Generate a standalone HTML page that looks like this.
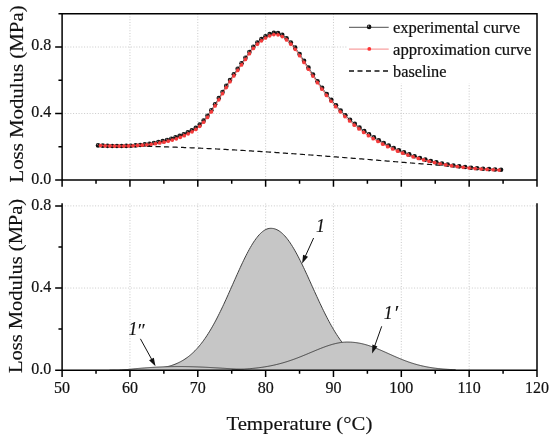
<!DOCTYPE html><html><head><meta charset="utf-8"><style>html,body{margin:0;padding:0;background:#fff;}svg{display:block;}</style></head><body><svg width="550" height="437" viewBox="0 0 550 437">
<rect width="550" height="437" fill="#fff"/>
<path d="M129.94,13.75 V180 M129.94,203.5 V370.2 M197.79,13.75 V180 M197.79,203.5 V370.2 M265.63,13.75 V180 M265.63,203.5 V370.2 M333.47,13.75 V180 M333.47,203.5 V370.2 M401.31,13.75 V180 M401.31,203.5 V370.2 M469.16,13.75 V180 M469.16,203.5 V370.2 M62.1,113.5 H537 M62.1,288.04 H537 M62.1,47 H537 M62.1,205.88 H537" fill="none" stroke="#c4c4c4" stroke-width="0.9" stroke-dasharray="1 1.75"/>
<rect x="347" y="14" width="190" height="69.5" fill="#fff"/>
<path d="M109.59,370.18 L110.7,370.18 L111.81,370.18 L112.91,370.17 L114.02,370.17 L115.13,370.17 L116.24,370.16 L117.35,370.16 L118.45,370.15 L119.56,370.15 L120.67,370.14 L121.78,370.13 L122.89,370.12 L124,370.12 L125.1,370.11 L126.21,370.09 L127.32,370.08 L128.43,370.07 L129.54,370.05 L130.64,370.04 L131.75,370.02 L132.86,370 L133.97,369.98 L135.08,369.95 L136.18,369.92 L137.29,369.89 L138.4,369.86 L139.51,369.83 L140.62,369.79 L141.72,369.74 L142.83,369.7 L143.94,369.65 L145.05,369.59 L146.16,369.53 L147.27,369.46 L148.37,369.39 L149.48,369.31 L150.59,369.23 L151.7,369.13 L152.81,369.03 L153.91,368.92 L155.02,368.81 L156.13,368.68 L157.24,368.54 L158.35,368.39 L159.45,368.23 L160.56,368.06 L161.67,367.87 L162.78,367.67 L163.89,367.45 L165,367.22 L166.1,366.97 L167.21,366.7 L168.32,366.42 L169.43,366.11 L170.54,365.78 L171.64,365.44 L172.75,365.06 L173.86,364.67 L174.97,364.24 L176.08,363.8 L177.18,363.32 L178.29,362.81 L179.4,362.27 L180.51,361.71 L181.62,361.1 L182.72,360.47 L183.83,359.79 L184.94,359.08 L186.05,358.34 L187.16,357.55 L188.27,356.72 L189.37,355.85 L190.48,354.93 L191.59,353.97 L192.7,352.97 L193.81,351.92 L194.91,350.82 L196.02,349.67 L197.13,348.47 L198.24,347.22 L199.35,345.92 L200.45,344.57 L201.56,343.17 L202.67,341.71 L203.78,340.2 L204.89,338.63 L205.99,337.02 L207.1,335.34 L208.21,333.62 L209.32,331.84 L210.43,330.01 L211.54,328.13 L212.64,326.19 L213.75,324.21 L214.86,322.18 L215.97,320.1 L217.08,317.97 L218.18,315.8 L219.29,313.59 L220.4,311.34 L221.51,309.05 L222.62,306.72 L223.72,304.36 L224.83,301.97 L225.94,299.55 L227.05,297.11 L228.16,294.65 L229.26,292.17 L230.37,289.68 L231.48,287.18 L232.59,284.68 L233.7,282.17 L234.81,279.67 L235.91,277.17 L237.02,274.69 L238.13,272.22 L239.24,269.77 L240.35,267.35 L241.45,264.96 L242.56,262.61 L243.67,260.3 L244.78,258.03 L245.89,255.81 L246.99,253.65 L248.1,251.55 L249.21,249.51 L250.32,247.54 L251.43,245.65 L252.53,243.83 L253.64,242.09 L254.75,240.45 L255.86,238.89 L256.97,237.43 L258.08,236.06 L259.18,234.8 L260.29,233.64 L261.4,232.59 L262.51,231.65 L263.62,230.82 L264.72,230.1 L265.83,229.51 L266.94,229.03 L268.05,228.67 L269.16,228.43 L270.26,228.32 L271.37,228.32 L272.48,228.41 L273.59,228.59 L274.7,228.87 L275.81,229.24 L276.91,229.72 L278.02,230.29 L279.13,230.96 L280.24,231.74 L281.35,232.61 L282.45,233.58 L283.56,234.64 L284.67,235.8 L285.78,237.06 L286.89,238.4 L287.99,239.83 L289.1,241.35 L290.21,242.96 L291.32,244.64 L292.43,246.4 L293.53,248.23 L294.64,250.13 L295.75,252.1 L296.86,254.13 L297.97,256.22 L299.08,258.36 L300.18,260.55 L301.29,262.79 L302.4,265.07 L303.51,267.38 L304.62,269.73 L305.72,272.1 L306.83,274.5 L307.94,276.92 L309.05,279.36 L310.16,281.8 L311.26,284.25 L312.37,286.71 L313.48,289.16 L314.59,291.61 L315.7,294.05 L316.8,296.47 L317.91,298.88 L319.02,301.27 L320.13,303.64 L321.24,305.98 L322.35,308.29 L323.45,310.57 L324.56,312.82 L325.67,315.03 L326.78,317.2 L327.89,319.33 L328.99,321.41 L330.1,323.45 L331.21,325.45 L332.32,327.39 L333.43,329.29 L334.53,331.14 L335.64,332.94 L336.75,334.68 L337.86,336.38 L338.97,338.02 L340.07,339.61 L341.18,341.14 L342.29,342.63 L343.4,344.06 L344.51,345.44 L345.62,346.76 L346.72,348.04 L347.83,349.26 L348.94,350.44 L350.05,351.56 L351.16,352.64 L352.26,353.67 L353.37,354.65 L354.48,355.59 L355.59,356.48 L356.7,357.34 L357.8,358.14 L358.91,358.91 L360.02,359.64 L361.13,360.33 L362.24,360.98 L363.34,361.6 L364.45,362.19 L365.56,362.74 L366.67,363.26 L367.78,363.75 L368.89,364.21 L369.99,364.64 L371.1,365.04 L372.21,365.42 L373.32,365.78 L374.43,366.12 L375.53,366.43 L376.64,366.72 L377.75,366.99 L378.86,367.24 L379.97,367.48 L381.07,367.7 L382.18,367.9 L383.29,368.09 L384.4,368.27 L385.51,368.43 L386.62,368.58 L387.72,368.72 L388.83,368.85 L389.94,368.96 L391.05,369.07 L392.16,369.17 L393.26,369.27 L394.37,369.35 L395.48,369.43 L396.59,369.5 L397.7,369.56 L398.8,369.62 L399.91,369.68 L401.02,369.73 L402.13,369.77 L403.24,369.82 L404.34,369.85 L405.45,369.89 L406.56,369.92 L407.67,369.95 L408.78,369.97 L409.89,370 L410.99,370.02 L412.1,370.04 L413.21,370.05 L414.32,370.07 L415.43,370.08 L416.53,370.1 L417.64,370.11 L418.75,370.12 L419.86,370.13 L420.97,370.13 L422.07,370.14 L423.18,370.15 L424.29,370.15 L425.4,370.16 L426.51,370.16 L427.61,370.17 L428.72,370.17 L429.83,370.18 L430.94,370.18 L432.05,370.18 L433.16,370.18 L434.26,370.19 L435.37,370.19 L436.48,370.19 L437.59,370.19 L438.7,370.19 L439.8,370.19 L440.91,370.19 L442.02,370.19 L442.02,370.2 L109.59,370.2 Z" fill="#c6c6c6"/>
<path d="M109.59,370.18 L110.7,370.18 L111.81,370.18 L112.91,370.17 L114.02,370.17 L115.13,370.17 L116.24,370.16 L117.35,370.16 L118.45,370.15 L119.56,370.15 L120.67,370.14 L121.78,370.13 L122.89,370.12 L124,370.12 L125.1,370.11 L126.21,370.09 L127.32,370.08 L128.43,370.07 L129.54,370.05 L130.64,370.04 L131.75,370.02 L132.86,370 L133.97,369.98 L135.08,369.95 L136.18,369.92 L137.29,369.89 L138.4,369.86 L139.51,369.83 L140.62,369.79 L141.72,369.74 L142.83,369.7 L143.94,369.65 L145.05,369.59 L146.16,369.53 L147.27,369.46 L148.37,369.39 L149.48,369.31 L150.59,369.23 L151.7,369.13 L152.81,369.03 L153.91,368.92 L155.02,368.81 L156.13,368.68 L157.24,368.54 L158.35,368.39 L159.45,368.23 L160.56,368.06 L161.67,367.87 L162.78,367.67 L163.89,367.45 L165,367.22 L166.1,366.97 L167.21,366.7 L168.32,366.42 L169.43,366.11 L170.54,365.78 L171.64,365.44 L172.75,365.06 L173.86,364.67 L174.97,364.24 L176.08,363.8 L177.18,363.32 L178.29,362.81 L179.4,362.27 L180.51,361.71 L181.62,361.1 L182.72,360.47 L183.83,359.79 L184.94,359.08 L186.05,358.34 L187.16,357.55 L188.27,356.72 L189.37,355.85 L190.48,354.93 L191.59,353.97 L192.7,352.97 L193.81,351.92 L194.91,350.82 L196.02,349.67 L197.13,348.47 L198.24,347.22 L199.35,345.92 L200.45,344.57 L201.56,343.17 L202.67,341.71 L203.78,340.2 L204.89,338.63 L205.99,337.02 L207.1,335.34 L208.21,333.62 L209.32,331.84 L210.43,330.01 L211.54,328.13 L212.64,326.19 L213.75,324.21 L214.86,322.18 L215.97,320.1 L217.08,317.97 L218.18,315.8 L219.29,313.59 L220.4,311.34 L221.51,309.05 L222.62,306.72 L223.72,304.36 L224.83,301.97 L225.94,299.55 L227.05,297.11 L228.16,294.65 L229.26,292.17 L230.37,289.68 L231.48,287.18 L232.59,284.68 L233.7,282.17 L234.81,279.67 L235.91,277.17 L237.02,274.69 L238.13,272.22 L239.24,269.77 L240.35,267.35 L241.45,264.96 L242.56,262.61 L243.67,260.3 L244.78,258.03 L245.89,255.81 L246.99,253.65 L248.1,251.55 L249.21,249.51 L250.32,247.54 L251.43,245.65 L252.53,243.83 L253.64,242.09 L254.75,240.45 L255.86,238.89 L256.97,237.43 L258.08,236.06 L259.18,234.8 L260.29,233.64 L261.4,232.59 L262.51,231.65 L263.62,230.82 L264.72,230.1 L265.83,229.51 L266.94,229.03 L268.05,228.67 L269.16,228.43 L270.26,228.32 L271.37,228.32 L272.48,228.41 L273.59,228.59 L274.7,228.87 L275.81,229.24 L276.91,229.72 L278.02,230.29 L279.13,230.96 L280.24,231.74 L281.35,232.61 L282.45,233.58 L283.56,234.64 L284.67,235.8 L285.78,237.06 L286.89,238.4 L287.99,239.83 L289.1,241.35 L290.21,242.96 L291.32,244.64 L292.43,246.4 L293.53,248.23 L294.64,250.13 L295.75,252.1 L296.86,254.13 L297.97,256.22 L299.08,258.36 L300.18,260.55 L301.29,262.79 L302.4,265.07 L303.51,267.38 L304.62,269.73 L305.72,272.1 L306.83,274.5 L307.94,276.92 L309.05,279.36 L310.16,281.8 L311.26,284.25 L312.37,286.71 L313.48,289.16 L314.59,291.61 L315.7,294.05 L316.8,296.47 L317.91,298.88 L319.02,301.27 L320.13,303.64 L321.24,305.98 L322.35,308.29 L323.45,310.57 L324.56,312.82 L325.67,315.03 L326.78,317.2 L327.89,319.33 L328.99,321.41 L330.1,323.45 L331.21,325.45 L332.32,327.39 L333.43,329.29 L334.53,331.14 L335.64,332.94 L336.75,334.68 L337.86,336.38 L338.97,338.02 L340.07,339.61 L341.18,341.14 L342.29,342.63 L343.4,344.06 L344.51,345.44 L345.62,346.76 L346.72,348.04 L347.83,349.26 L348.94,350.44 L350.05,351.56 L351.16,352.64 L352.26,353.67 L353.37,354.65 L354.48,355.59 L355.59,356.48 L356.7,357.34 L357.8,358.14 L358.91,358.91 L360.02,359.64 L361.13,360.33 L362.24,360.98 L363.34,361.6 L364.45,362.19 L365.56,362.74 L366.67,363.26 L367.78,363.75 L368.89,364.21 L369.99,364.64 L371.1,365.04 L372.21,365.42 L373.32,365.78 L374.43,366.12 L375.53,366.43 L376.64,366.72 L377.75,366.99 L378.86,367.24 L379.97,367.48 L381.07,367.7 L382.18,367.9 L383.29,368.09 L384.4,368.27 L385.51,368.43 L386.62,368.58 L387.72,368.72 L388.83,368.85 L389.94,368.96 L391.05,369.07 L392.16,369.17 L393.26,369.27 L394.37,369.35 L395.48,369.43 L396.59,369.5 L397.7,369.56 L398.8,369.62 L399.91,369.68 L401.02,369.73 L402.13,369.77 L403.24,369.82 L404.34,369.85 L405.45,369.89 L406.56,369.92 L407.67,369.95 L408.78,369.97 L409.89,370 L410.99,370.02 L412.1,370.04 L413.21,370.05 L414.32,370.07 L415.43,370.08 L416.53,370.1 L417.64,370.11 L418.75,370.12 L419.86,370.13 L420.97,370.13 L422.07,370.14 L423.18,370.15 L424.29,370.15 L425.4,370.16 L426.51,370.16 L427.61,370.17 L428.72,370.17 L429.83,370.18 L430.94,370.18 L432.05,370.18 L433.16,370.18 L434.26,370.19 L435.37,370.19 L436.48,370.19 L437.59,370.19 L438.7,370.19 L439.8,370.19 L440.91,370.19 L442.02,370.19" fill="none" stroke="#404040" stroke-width="1.0"/>
<path d="M119.77,370.2 L120.24,370.2 L120.72,370.2 L121.19,370.2 L121.67,370.17 L122.14,370.11 L122.62,370.06 L123.09,370 L123.57,369.95 L124.04,369.89 L124.52,369.84 L124.99,369.79 L125.47,369.73 L125.94,369.68 L126.42,369.63 L126.89,369.58 L127.36,369.52 L127.84,369.47 L128.31,369.42 L128.79,369.37 L129.26,369.32 L129.74,369.27 L130.21,369.22 L130.69,369.18 L131.16,369.13 L131.64,369.08 L132.11,369.03 L132.59,368.98 L133.06,368.94 L133.54,368.89 L134.01,368.84 L134.49,368.8 L134.96,368.75 L135.44,368.71 L135.91,368.67 L136.39,368.62 L136.86,368.58 L137.34,368.53 L137.81,368.49 L138.29,368.45 L138.76,368.41 L139.24,368.37 L139.71,368.33 L140.19,368.29 L140.66,368.25 L141.14,368.21 L141.61,368.17 L142.09,368.13 L142.56,368.09 L143.04,368.05 L143.51,368.01 L143.99,367.98 L144.46,367.94 L144.94,367.9 L145.41,367.87 L145.89,367.83 L146.36,367.8 L146.84,367.76 L147.31,367.73 L147.79,367.7 L148.26,367.66 L148.74,367.63 L149.21,367.6 L149.69,367.57 L150.16,367.54 L150.63,367.51 L151.11,367.47 L151.58,367.45 L152.06,367.42 L152.53,367.39 L153.01,367.36 L153.48,367.33 L153.96,367.3 L154.43,367.28 L154.91,367.25 L155.38,367.22 L155.86,367.2 L156.33,367.17 L156.81,367.15 L157.28,367.12 L157.76,367.1 L158.23,367.08 L158.71,367.05 L159.18,367.03 L159.66,367.01 L160.13,366.99 L160.61,366.97 L161.08,366.95 L161.56,366.93 L162.03,366.91 L162.51,366.89 L162.98,366.87 L163.46,366.85 L163.93,366.84 L164.41,366.82 L164.88,366.8 L165.36,366.79 L165.83,366.77 L166.31,366.76 L166.78,366.74 L167.26,366.73 L167.73,366.71 L168.21,366.7 L168.68,366.69 L169.16,366.68 L169.63,366.67 L170.11,366.65 L170.58,366.64 L171.06,366.63 L171.53,366.63 L172.01,366.62 L172.48,366.61 L172.96,366.6 L173.43,366.59 L173.91,366.59 L174.38,366.58 L174.85,366.58 L175.33,366.57 L175.8,366.57 L176.28,366.56 L176.75,366.56 L177.23,366.56 L177.7,366.55 L178.18,366.55 L178.65,366.55 L179.13,366.55 L179.6,366.55 L180.08,366.55 L180.55,366.55 L181.03,366.55 L181.5,366.55 L181.98,366.56 L182.45,366.56 L182.93,366.56 L183.4,366.57 L183.88,366.57 L184.35,366.58 L184.83,366.58 L185.3,366.59 L185.78,366.6 L186.25,366.6 L186.73,366.61 L187.2,366.62 L187.68,366.63 L188.15,366.64 L188.63,366.65 L189.1,366.66 L189.58,366.67 L190.05,366.68 L190.53,366.69 L191,366.7 L191.48,366.72 L191.95,366.73 L192.43,366.74 L192.9,366.76 L193.38,366.77 L193.85,366.79 L194.33,366.8 L194.8,366.82 L195.28,366.83 L195.75,366.85 L196.23,366.87 L196.7,366.88 L197.18,366.9 L197.65,366.92 L198.12,366.94 L198.6,366.96 L199.07,366.98 L199.55,366.99 L200.02,367.01 L200.5,367.03 L200.97,367.05 L201.45,367.08 L201.92,367.1 L202.4,367.12 L202.87,367.14 L203.35,367.16 L203.82,367.18 L204.3,367.21 L204.77,367.23 L205.25,367.25 L205.72,367.28 L206.2,367.3 L206.67,367.32 L207.15,367.35 L207.62,367.37 L208.1,367.4 L208.57,367.42 L209.05,367.45 L209.52,367.47 L210,367.5 L210.47,367.52 L210.95,367.55 L211.42,367.58 L211.9,367.6 L212.37,367.63 L212.85,367.66 L213.32,367.68 L213.8,367.71 L214.27,367.74 L214.75,367.76 L215.22,367.79 L215.7,367.82 L216.17,367.85 L216.65,367.88 L217.12,367.9 L217.6,367.93 L218.07,367.96 L218.55,367.99 L219.02,368.02 L219.5,368.05 L219.97,368.08 L220.45,368.1 L220.92,368.13 L221.4,368.16 L221.87,368.19 L222.34,368.22 L222.82,368.25 L223.29,368.28 L223.77,368.31 L224.24,368.34 L224.72,368.37 L225.19,368.4 L225.67,368.43 L226.14,368.46 L226.62,368.49 L227.09,368.52 L227.57,368.54 L228.04,368.57 L228.52,368.6 L228.99,368.63 L229.47,368.66 L229.94,368.69 L230.42,368.72 L230.89,368.75 L231.37,368.78 L231.84,368.81 L232.32,368.84 L232.79,368.87 L233.27,368.9 L233.74,368.93 L234.22,368.95 L234.69,368.98 L235.17,369.01 L235.64,369.04 L236.12,369.07 L236.59,369.1 L237.07,369.13 L237.54,369.15 L238.02,369.18 L238.49,369.21 L238.97,369.24 L239.44,369.26 L239.92,369.29 L240.39,369.32 L240.87,369.35 L241.34,369.37 L241.82,369.4 L242.29,369.43 L242.77,369.45 L243.24,369.48 L243.72,369.5 L244.19,369.53 L244.67,369.56 L245.14,369.58 L245.61,369.61 L246.09,369.63 L246.56,369.66 L247.04,369.68 L247.51,369.7 L247.99,369.73 L248.46,369.75 L248.94,369.77 L249.41,369.8 L249.89,369.82 L250.36,369.84 L250.84,369.86 L251.31,369.89 L251.79,369.91 L252.26,369.93 L252.74,369.95 L253.21,369.97 L253.69,369.99 L254.16,370.01 L254.64,370.03 L255.11,370.05 L255.59,370.07 L256.06,370.09 L256.54,370.11 L257.01,370.12 L257.49,370.14 L257.96,370.16 L258.44,370.17 L258.91,370.19 L259.39,370.2 L259.86,370.2 L260.34,370.2 L260.81,370.2 L261.29,370.2 L261.76,370.2 L262.24,370.2 L262.24,370.2 L119.77,370.2 Z" fill="#c6c6c6"/>
<path d="M119.77,370.2 L120.24,370.2 L120.72,370.2 L121.19,370.2 L121.67,370.17 L122.14,370.11 L122.62,370.06 L123.09,370 L123.57,369.95 L124.04,369.89 L124.52,369.84 L124.99,369.79 L125.47,369.73 L125.94,369.68 L126.42,369.63 L126.89,369.58 L127.36,369.52 L127.84,369.47 L128.31,369.42 L128.79,369.37 L129.26,369.32 L129.74,369.27 L130.21,369.22 L130.69,369.18 L131.16,369.13 L131.64,369.08 L132.11,369.03 L132.59,368.98 L133.06,368.94 L133.54,368.89 L134.01,368.84 L134.49,368.8 L134.96,368.75 L135.44,368.71 L135.91,368.67 L136.39,368.62 L136.86,368.58 L137.34,368.53 L137.81,368.49 L138.29,368.45 L138.76,368.41 L139.24,368.37 L139.71,368.33 L140.19,368.29 L140.66,368.25 L141.14,368.21 L141.61,368.17 L142.09,368.13 L142.56,368.09 L143.04,368.05 L143.51,368.01 L143.99,367.98 L144.46,367.94 L144.94,367.9 L145.41,367.87 L145.89,367.83 L146.36,367.8 L146.84,367.76 L147.31,367.73 L147.79,367.7 L148.26,367.66 L148.74,367.63 L149.21,367.6 L149.69,367.57 L150.16,367.54 L150.63,367.51 L151.11,367.47 L151.58,367.45 L152.06,367.42 L152.53,367.39 L153.01,367.36 L153.48,367.33 L153.96,367.3 L154.43,367.28 L154.91,367.25 L155.38,367.22 L155.86,367.2 L156.33,367.17 L156.81,367.15 L157.28,367.12 L157.76,367.1 L158.23,367.08 L158.71,367.05 L159.18,367.03 L159.66,367.01 L160.13,366.99 L160.61,366.97 L161.08,366.95 L161.56,366.93 L162.03,366.91 L162.51,366.89 L162.98,366.87 L163.46,366.85 L163.93,366.84 L164.41,366.82 L164.88,366.8 L165.36,366.79 L165.83,366.77 L166.31,366.76 L166.78,366.74 L167.26,366.73 L167.73,366.71 L168.21,366.7 L168.68,366.69 L169.16,366.68 L169.63,366.67 L170.11,366.65 L170.58,366.64 L171.06,366.63 L171.53,366.63 L172.01,366.62 L172.48,366.61 L172.96,366.6 L173.43,366.59 L173.91,366.59 L174.38,366.58 L174.85,366.58 L175.33,366.57 L175.8,366.57 L176.28,366.56 L176.75,366.56 L177.23,366.56 L177.7,366.55 L178.18,366.55 L178.65,366.55 L179.13,366.55 L179.6,366.55 L180.08,366.55 L180.55,366.55 L181.03,366.55 L181.5,366.55 L181.98,366.56 L182.45,366.56 L182.93,366.56 L183.4,366.57 L183.88,366.57 L184.35,366.58 L184.83,366.58 L185.3,366.59 L185.78,366.6 L186.25,366.6 L186.73,366.61 L187.2,366.62 L187.68,366.63 L188.15,366.64 L188.63,366.65 L189.1,366.66 L189.58,366.67 L190.05,366.68 L190.53,366.69 L191,366.7 L191.48,366.72 L191.95,366.73 L192.43,366.74 L192.9,366.76 L193.38,366.77 L193.85,366.79 L194.33,366.8 L194.8,366.82 L195.28,366.83 L195.75,366.85 L196.23,366.87 L196.7,366.88 L197.18,366.9 L197.65,366.92 L198.12,366.94 L198.6,366.96 L199.07,366.98 L199.55,366.99 L200.02,367.01 L200.5,367.03 L200.97,367.05 L201.45,367.08 L201.92,367.1 L202.4,367.12 L202.87,367.14 L203.35,367.16 L203.82,367.18 L204.3,367.21 L204.77,367.23 L205.25,367.25 L205.72,367.28 L206.2,367.3 L206.67,367.32 L207.15,367.35 L207.62,367.37 L208.1,367.4 L208.57,367.42 L209.05,367.45 L209.52,367.47 L210,367.5 L210.47,367.52 L210.95,367.55 L211.42,367.58 L211.9,367.6 L212.37,367.63 L212.85,367.66 L213.32,367.68 L213.8,367.71 L214.27,367.74 L214.75,367.76 L215.22,367.79 L215.7,367.82 L216.17,367.85 L216.65,367.88 L217.12,367.9 L217.6,367.93 L218.07,367.96 L218.55,367.99 L219.02,368.02 L219.5,368.05 L219.97,368.08 L220.45,368.1 L220.92,368.13 L221.4,368.16 L221.87,368.19 L222.34,368.22 L222.82,368.25 L223.29,368.28 L223.77,368.31 L224.24,368.34 L224.72,368.37 L225.19,368.4 L225.67,368.43 L226.14,368.46 L226.62,368.49 L227.09,368.52 L227.57,368.54 L228.04,368.57 L228.52,368.6 L228.99,368.63 L229.47,368.66 L229.94,368.69 L230.42,368.72 L230.89,368.75 L231.37,368.78 L231.84,368.81 L232.32,368.84 L232.79,368.87 L233.27,368.9 L233.74,368.93 L234.22,368.95 L234.69,368.98 L235.17,369.01 L235.64,369.04 L236.12,369.07 L236.59,369.1 L237.07,369.13 L237.54,369.15 L238.02,369.18 L238.49,369.21 L238.97,369.24 L239.44,369.26 L239.92,369.29 L240.39,369.32 L240.87,369.35 L241.34,369.37 L241.82,369.4 L242.29,369.43 L242.77,369.45 L243.24,369.48 L243.72,369.5 L244.19,369.53 L244.67,369.56 L245.14,369.58 L245.61,369.61 L246.09,369.63 L246.56,369.66 L247.04,369.68 L247.51,369.7 L247.99,369.73 L248.46,369.75 L248.94,369.77 L249.41,369.8 L249.89,369.82 L250.36,369.84 L250.84,369.86 L251.31,369.89 L251.79,369.91 L252.26,369.93 L252.74,369.95 L253.21,369.97 L253.69,369.99 L254.16,370.01 L254.64,370.03 L255.11,370.05 L255.59,370.07 L256.06,370.09 L256.54,370.11 L257.01,370.12 L257.49,370.14 L257.96,370.16 L258.44,370.17 L258.91,370.19 L259.39,370.2 L259.86,370.2 L260.34,370.2 L260.81,370.2 L261.29,370.2 L261.76,370.2 L262.24,370.2" fill="none" stroke="#404040" stroke-width="1.0"/>
<path d="M231.71,369.69 L232.45,369.66 L233.2,369.64 L233.95,369.61 L234.69,369.58 L235.44,369.55 L236.18,369.52 L236.93,369.49 L237.68,369.45 L238.42,369.42 L239.17,369.38 L239.92,369.34 L240.66,369.3 L241.41,369.26 L242.15,369.22 L242.9,369.17 L243.65,369.13 L244.39,369.08 L245.14,369.03 L245.89,368.98 L246.63,368.92 L247.38,368.87 L248.13,368.81 L248.87,368.75 L249.62,368.69 L250.36,368.62 L251.11,368.56 L251.86,368.49 L252.6,368.42 L253.35,368.34 L254.1,368.27 L254.84,368.19 L255.59,368.11 L256.33,368.02 L257.08,367.94 L257.83,367.85 L258.57,367.75 L259.32,367.66 L260.07,367.56 L260.81,367.46 L261.56,367.35 L262.3,367.25 L263.05,367.14 L263.8,367.02 L264.54,366.9 L265.29,366.78 L266.04,366.66 L266.78,366.53 L267.53,366.4 L268.27,366.26 L269.02,366.13 L269.77,365.98 L270.51,365.84 L271.26,365.69 L272.01,365.53 L272.75,365.38 L273.5,365.22 L274.24,365.05 L274.99,364.88 L275.74,364.71 L276.48,364.53 L277.23,364.35 L277.98,364.17 L278.72,363.98 L279.47,363.78 L280.21,363.59 L280.96,363.38 L281.71,363.18 L282.45,362.97 L283.2,362.75 L283.95,362.54 L284.69,362.32 L285.44,362.09 L286.18,361.86 L286.93,361.63 L287.68,361.39 L288.42,361.15 L289.17,360.9 L289.92,360.65 L290.66,360.4 L291.41,360.14 L292.16,359.88 L292.9,359.62 L293.65,359.35 L294.39,359.08 L295.14,358.8 L295.89,358.52 L296.63,358.24 L297.38,357.96 L298.13,357.67 L298.87,357.38 L299.62,357.09 L300.36,356.79 L301.11,356.5 L301.86,356.2 L302.6,355.89 L303.35,355.59 L304.1,355.28 L304.84,354.98 L305.59,354.67 L306.33,354.36 L307.08,354.04 L307.83,353.73 L308.57,353.42 L309.32,353.1 L310.07,352.79 L310.81,352.47 L311.56,352.16 L312.3,351.85 L313.05,351.53 L313.8,351.22 L314.54,350.91 L315.29,350.59 L316.04,350.28 L316.78,349.98 L317.53,349.67 L318.27,349.36 L319.02,349.06 L319.77,348.76 L320.51,348.47 L321.26,348.17 L322.01,347.88 L322.75,347.6 L323.5,347.32 L324.24,347.04 L324.99,346.77 L325.74,346.5 L326.48,346.23 L327.23,345.98 L327.98,345.72 L328.72,345.48 L329.47,345.24 L330.21,345 L330.96,344.77 L331.71,344.55 L332.45,344.34 L333.2,344.14 L333.95,343.94 L334.69,343.75 L335.44,343.57 L336.19,343.4 L336.93,343.23 L337.68,343.08 L338.42,342.94 L339.17,342.8 L339.92,342.68 L340.66,342.56 L341.41,342.46 L342.16,342.37 L342.9,342.28 L343.65,342.21 L344.39,342.16 L345.14,342.11 L345.89,342.08 L346.63,342.06 L347.38,342.06 L348.13,342.07 L348.87,342.08 L349.62,342.1 L350.36,342.13 L351.11,342.17 L351.86,342.21 L352.6,342.27 L353.35,342.33 L354.1,342.4 L354.84,342.49 L355.59,342.58 L356.33,342.68 L357.08,342.78 L357.83,342.9 L358.57,343.03 L359.32,343.16 L360.07,343.3 L360.81,343.46 L361.56,343.62 L362.3,343.79 L363.05,343.97 L363.8,344.15 L364.54,344.35 L365.29,344.55 L366.04,344.76 L366.78,344.98 L367.53,345.2 L368.27,345.43 L369.02,345.67 L369.77,345.92 L370.51,346.18 L371.26,346.44 L372.01,346.7 L372.75,346.97 L373.5,347.25 L374.24,347.54 L374.99,347.82 L375.74,348.12 L376.48,348.42 L377.23,348.72 L377.98,349.03 L378.72,349.34 L379.47,349.65 L380.22,349.97 L380.96,350.29 L381.71,350.61 L382.45,350.94 L383.2,351.27 L383.95,351.6 L384.69,351.93 L385.44,352.26 L386.19,352.6 L386.93,352.93 L387.68,353.27 L388.42,353.61 L389.17,353.94 L389.92,354.28 L390.66,354.62 L391.41,354.95 L392.16,355.28 L392.9,355.62 L393.65,355.95 L394.39,356.28 L395.14,356.6 L395.89,356.93 L396.63,357.25 L397.38,357.57 L398.13,357.89 L398.87,358.21 L399.62,358.52 L400.36,358.83 L401.11,359.13 L401.86,359.43 L402.6,359.73 L403.35,360.03 L404.1,360.32 L404.84,360.6 L405.59,360.88 L406.33,361.16 L407.08,361.43 L407.83,361.7 L408.57,361.97 L409.32,362.22 L410.07,362.48 L410.81,362.73 L411.56,362.97 L412.3,363.21 L413.05,363.45 L413.8,363.68 L414.54,363.9 L415.29,364.12 L416.04,364.33 L416.78,364.54 L417.53,364.75 L418.27,364.95 L419.02,365.14 L419.77,365.33 L420.51,365.51 L421.26,365.69 L422.01,365.87 L422.75,366.04 L423.5,366.2 L424.25,366.36 L424.99,366.52 L425.74,366.67 L426.48,366.81 L427.23,366.95 L427.98,367.09 L428.72,367.22 L429.47,367.35 L430.22,367.47 L430.96,367.59 L431.71,367.71 L432.45,367.82 L433.2,367.93 L433.95,368.03 L434.69,368.13 L435.44,368.23 L436.19,368.32 L436.93,368.41 L437.68,368.49 L438.42,368.58 L439.17,368.65 L439.92,368.73 L440.66,368.8 L441.41,368.87 L442.16,368.94 L442.9,369 L443.65,369.07 L444.39,369.12 L445.14,369.18 L445.89,369.23 L446.63,369.28 L447.38,369.33 L448.13,369.38 L448.87,369.42 L449.62,369.47 L450.36,369.51 L451.11,369.55 L451.86,369.58 L452.6,369.62 L453.35,369.65 L454.1,369.68 L454.84,369.71 L455.59,369.74 L455.59,370.2 L231.71,370.2 Z" fill="#c6c6c6"/>
<path d="M231.71,369.69 L232.45,369.66 L233.2,369.64 L233.95,369.61 L234.69,369.58 L235.44,369.55 L236.18,369.52 L236.93,369.49 L237.68,369.45 L238.42,369.42 L239.17,369.38 L239.92,369.34 L240.66,369.3 L241.41,369.26 L242.15,369.22 L242.9,369.17 L243.65,369.13 L244.39,369.08 L245.14,369.03 L245.89,368.98 L246.63,368.92 L247.38,368.87 L248.13,368.81 L248.87,368.75 L249.62,368.69 L250.36,368.62 L251.11,368.56 L251.86,368.49 L252.6,368.42 L253.35,368.34 L254.1,368.27 L254.84,368.19 L255.59,368.11 L256.33,368.02 L257.08,367.94 L257.83,367.85 L258.57,367.75 L259.32,367.66 L260.07,367.56 L260.81,367.46 L261.56,367.35 L262.3,367.25 L263.05,367.14 L263.8,367.02 L264.54,366.9 L265.29,366.78 L266.04,366.66 L266.78,366.53 L267.53,366.4 L268.27,366.26 L269.02,366.13 L269.77,365.98 L270.51,365.84 L271.26,365.69 L272.01,365.53 L272.75,365.38 L273.5,365.22 L274.24,365.05 L274.99,364.88 L275.74,364.71 L276.48,364.53 L277.23,364.35 L277.98,364.17 L278.72,363.98 L279.47,363.78 L280.21,363.59 L280.96,363.38 L281.71,363.18 L282.45,362.97 L283.2,362.75 L283.95,362.54 L284.69,362.32 L285.44,362.09 L286.18,361.86 L286.93,361.63 L287.68,361.39 L288.42,361.15 L289.17,360.9 L289.92,360.65 L290.66,360.4 L291.41,360.14 L292.16,359.88 L292.9,359.62 L293.65,359.35 L294.39,359.08 L295.14,358.8 L295.89,358.52 L296.63,358.24 L297.38,357.96 L298.13,357.67 L298.87,357.38 L299.62,357.09 L300.36,356.79 L301.11,356.5 L301.86,356.2 L302.6,355.89 L303.35,355.59 L304.1,355.28 L304.84,354.98 L305.59,354.67 L306.33,354.36 L307.08,354.04 L307.83,353.73 L308.57,353.42 L309.32,353.1 L310.07,352.79 L310.81,352.47 L311.56,352.16 L312.3,351.85 L313.05,351.53 L313.8,351.22 L314.54,350.91 L315.29,350.59 L316.04,350.28 L316.78,349.98 L317.53,349.67 L318.27,349.36 L319.02,349.06 L319.77,348.76 L320.51,348.47 L321.26,348.17 L322.01,347.88 L322.75,347.6 L323.5,347.32 L324.24,347.04 L324.99,346.77 L325.74,346.5 L326.48,346.23 L327.23,345.98 L327.98,345.72 L328.72,345.48 L329.47,345.24 L330.21,345 L330.96,344.77 L331.71,344.55 L332.45,344.34 L333.2,344.14 L333.95,343.94 L334.69,343.75 L335.44,343.57 L336.19,343.4 L336.93,343.23 L337.68,343.08 L338.42,342.94 L339.17,342.8 L339.92,342.68 L340.66,342.56 L341.41,342.46 L342.16,342.37 L342.9,342.28 L343.65,342.21 L344.39,342.16 L345.14,342.11 L345.89,342.08 L346.63,342.06 L347.38,342.06 L348.13,342.07 L348.87,342.08 L349.62,342.1 L350.36,342.13 L351.11,342.17 L351.86,342.21 L352.6,342.27 L353.35,342.33 L354.1,342.4 L354.84,342.49 L355.59,342.58 L356.33,342.68 L357.08,342.78 L357.83,342.9 L358.57,343.03 L359.32,343.16 L360.07,343.3 L360.81,343.46 L361.56,343.62 L362.3,343.79 L363.05,343.97 L363.8,344.15 L364.54,344.35 L365.29,344.55 L366.04,344.76 L366.78,344.98 L367.53,345.2 L368.27,345.43 L369.02,345.67 L369.77,345.92 L370.51,346.18 L371.26,346.44 L372.01,346.7 L372.75,346.97 L373.5,347.25 L374.24,347.54 L374.99,347.82 L375.74,348.12 L376.48,348.42 L377.23,348.72 L377.98,349.03 L378.72,349.34 L379.47,349.65 L380.22,349.97 L380.96,350.29 L381.71,350.61 L382.45,350.94 L383.2,351.27 L383.95,351.6 L384.69,351.93 L385.44,352.26 L386.19,352.6 L386.93,352.93 L387.68,353.27 L388.42,353.61 L389.17,353.94 L389.92,354.28 L390.66,354.62 L391.41,354.95 L392.16,355.28 L392.9,355.62 L393.65,355.95 L394.39,356.28 L395.14,356.6 L395.89,356.93 L396.63,357.25 L397.38,357.57 L398.13,357.89 L398.87,358.21 L399.62,358.52 L400.36,358.83 L401.11,359.13 L401.86,359.43 L402.6,359.73 L403.35,360.03 L404.1,360.32 L404.84,360.6 L405.59,360.88 L406.33,361.16 L407.08,361.43 L407.83,361.7 L408.57,361.97 L409.32,362.22 L410.07,362.48 L410.81,362.73 L411.56,362.97 L412.3,363.21 L413.05,363.45 L413.8,363.68 L414.54,363.9 L415.29,364.12 L416.04,364.33 L416.78,364.54 L417.53,364.75 L418.27,364.95 L419.02,365.14 L419.77,365.33 L420.51,365.51 L421.26,365.69 L422.01,365.87 L422.75,366.04 L423.5,366.2 L424.25,366.36 L424.99,366.52 L425.74,366.67 L426.48,366.81 L427.23,366.95 L427.98,367.09 L428.72,367.22 L429.47,367.35 L430.22,367.47 L430.96,367.59 L431.71,367.71 L432.45,367.82 L433.2,367.93 L433.95,368.03 L434.69,368.13 L435.44,368.23 L436.19,368.32 L436.93,368.41 L437.68,368.49 L438.42,368.58 L439.17,368.65 L439.92,368.73 L440.66,368.8 L441.41,368.87 L442.16,368.94 L442.9,369 L443.65,369.07 L444.39,369.12 L445.14,369.18 L445.89,369.23 L446.63,369.28 L447.38,369.33 L448.13,369.38 L448.87,369.42 L449.62,369.47 L450.36,369.51 L451.11,369.55 L451.86,369.58 L452.6,369.62 L453.35,369.65 L454.1,369.68 L454.84,369.71 L455.59,369.74" fill="none" stroke="#404040" stroke-width="1.0"/>
<path d="M96.02,145.8 L97.72,145.8 L99.43,145.8 L101.13,145.8 L102.83,145.8 L104.54,145.8 L106.24,145.81 L107.94,145.81 L109.65,145.82 L111.35,145.83 L113.05,145.84 L114.76,145.85 L116.46,145.86 L118.16,145.88 L119.87,145.9 L121.57,145.91 L123.27,145.93 L124.98,145.96 L126.68,145.98 L128.38,146 L130.08,146.03 L131.79,146.05 L133.49,146.08 L135.19,146.11 L136.9,146.14 L138.6,146.17 L140.3,146.21 L142.01,146.24 L143.71,146.28 L145.41,146.32 L147.12,146.36 L148.82,146.4 L150.52,146.44 L152.23,146.48 L153.93,146.53 L155.63,146.57 L157.34,146.62 L159.04,146.67 L160.74,146.72 L162.44,146.77 L164.15,146.82 L165.85,146.87 L167.55,146.93 L169.26,146.98 L170.96,147.04 L172.66,147.1 L174.37,147.16 L176.07,147.22 L177.77,147.28 L179.48,147.34 L181.18,147.41 L182.88,147.47 L184.59,147.54 L186.29,147.61 L187.99,147.67 L189.7,147.74 L191.4,147.82 L193.1,147.89 L194.81,147.96 L196.51,148.03 L198.21,148.11 L199.91,148.19 L201.62,148.26 L203.32,148.34 L205.02,148.42 L206.73,148.5 L208.43,148.58 L210.13,148.67 L211.84,148.75 L213.54,148.83 L215.24,148.92 L216.95,149.01 L218.65,149.09 L220.35,149.18 L222.06,149.27 L223.76,149.36 L225.46,149.45 L227.17,149.54 L228.87,149.64 L230.57,149.73 L232.27,149.83 L233.98,149.92 L235.68,150.02 L237.38,150.11 L239.09,150.21 L240.79,150.31 L242.49,150.41 L244.2,150.51 L245.9,150.61 L247.6,150.72 L249.31,150.82 L251.01,150.92 L252.71,151.03 L254.42,151.13 L256.12,151.24 L257.82,151.35 L259.53,151.46 L261.23,151.56 L262.93,151.67 L264.64,151.78 L266.34,151.9 L268.04,152.01 L269.74,152.12 L271.45,152.23 L273.15,152.35 L274.85,152.46 L276.56,152.57 L278.26,152.69 L279.96,152.81 L281.67,152.92 L283.37,153.04 L285.07,153.16 L286.78,153.28 L288.48,153.4 L290.18,153.52 L291.89,153.64 L293.59,153.76 L295.29,153.88 L297,154 L298.7,154.12 L300.4,154.25 L302.1,154.37 L303.81,154.5 L305.51,154.62 L307.21,154.75 L308.92,154.87 L310.62,155 L312.32,155.12 L314.03,155.25 L315.73,155.38 L317.43,155.51 L319.14,155.64 L320.84,155.77 L322.54,155.89 L324.25,156.02 L325.95,156.15 L327.65,156.29 L329.36,156.42 L331.06,156.55 L332.76,156.68 L334.46,156.81 L336.17,156.94 L337.87,157.08 L339.57,157.21 L341.28,157.34 L342.98,157.48 L344.68,157.61 L346.39,157.75 L348.09,157.88 L349.79,158.02 L351.5,158.15 L353.2,158.29 L354.9,158.42 L356.61,158.56 L358.31,158.69 L360.01,158.83 L361.72,158.97 L363.42,159.1 L365.12,159.24 L366.83,159.38 L368.53,159.52 L370.23,159.65 L371.93,159.79 L373.64,159.93 L375.34,160.07 L377.04,160.21 L378.75,160.34 L380.45,160.48 L382.15,160.62 L383.86,160.76 L385.56,160.9 L387.26,161.04 L388.97,161.18 L390.67,161.32 L392.37,161.46 L394.08,161.59 L395.78,161.73 L397.48,161.87 L399.19,162.01 L400.89,162.15 L402.59,162.29 L404.29,162.43 L406,162.57 L407.7,162.71 L409.4,162.85 L411.11,162.99 L412.81,163.13 L414.51,163.26 L416.22,163.4 L417.92,163.54 L419.62,163.68 L421.33,163.82 L423.03,163.96 L424.73,164.1 L426.44,164.24 L428.14,164.37 L429.84,164.51 L431.55,164.65 L433.25,164.79 L434.95,164.92 L436.66,165.06 L438.36,165.2 L440.06,165.34 L441.76,165.47 L443.47,165.61 L445.17,165.75 L446.87,165.88 L448.58,166.02 L450.28,166.15 L451.98,166.29 L453.69,166.42 L455.39,166.56 L457.09,166.69 L458.8,166.83 L460.5,166.96 L462.2,167.1 L463.91,167.23 L465.61,167.36 L467.31,167.5 L469.02,167.63 L470.72,167.76 L472.42,167.89 L474.12,168.02 L475.83,168.15 L477.53,168.28 L479.23,168.41 L480.94,168.54 L482.64,168.67 L484.34,168.8 L486.05,168.93 L487.75,169.06 L489.45,169.19 L491.16,169.31 L492.86,169.44 L494.56,169.57 L496.27,169.69 L497.97,169.82 L499.67,169.94 L501.38,170.07 L503.08,170.19" fill="none" stroke="#111" stroke-width="1.2" stroke-dasharray="5.2 3.3"/>
<path d="M98.06,145.41 L102.8,145.66 L107.53,145.84 L112.24,145.97 L116.94,146.02 L121.63,146 L126.3,145.9 L130.95,145.7 L135.59,145.42 L140.21,144.98 L144.82,144.41 L149.41,143.73 L153.92,142.95 L158.37,142.07 L162.75,141.08 L167.06,139.95 L171.32,138.7 L175.51,137.37 L179.66,135.87 L183.76,134.19 L187.83,132.32 L191.85,130.24 L195.82,127.73 L199.76,124.58 L203.65,120.57 L207.5,115.7 L211.32,110.18 L215.09,104.26 L218.82,98.12 L222.53,91.97 L226.26,85.88 L230.04,79.99 L233.84,74.27 L237.68,68.68 L241.55,63.2 L245.46,57.69 L249.4,51.94 L253.38,46.7 L257.39,42.51 L261.44,39.13 L265.53,36.29 L269.65,34.1 L273.81,32.9 L278.01,33.08 L282.25,34.92 L286.53,38.18 L290.84,42.47 L295.19,47.65 L299.58,53.94 L304.01,60.77 L308.47,67.66 L312.97,74.52 L317.51,81.25 L322.09,87.79 L326.7,94.02 L331.33,99.88 L335.98,105.37 L340.64,110.5 L345.33,115.28 L350.04,119.72 L354.77,123.84 L359.51,127.64 L364.28,131.15 L369.07,134.39 L373.89,137.4 L378.76,140.24 L383.7,142.93 L388.69,145.48 L393.74,147.93 L398.85,150.24 L404.02,152.4 L409.25,154.41 L414.55,156.29 L419.9,158.02 L425.32,159.62 L430.81,161.07 L436.35,162.36 L441.97,163.52 L447.65,164.57 L453.39,165.5 L459.21,166.33 L465.09,167.06 L471.04,167.69 L477.04,168.24 L483.04,168.72 L489.04,169.12 L495.04,169.47 L501.04,169.78" fill="none" stroke="#333" stroke-width="0.8"/>
<g fill="#111"><circle cx="98.06" cy="145.41" r="2.3"/><circle cx="102.8" cy="145.66" r="2.3"/><circle cx="107.53" cy="145.84" r="2.3"/><circle cx="112.24" cy="145.97" r="2.3"/><circle cx="116.94" cy="146.02" r="2.3"/><circle cx="121.63" cy="146" r="2.3"/><circle cx="126.3" cy="145.9" r="2.3"/><circle cx="130.95" cy="145.7" r="2.3"/><circle cx="135.59" cy="145.42" r="2.3"/><circle cx="140.21" cy="144.98" r="2.3"/><circle cx="144.82" cy="144.41" r="2.3"/><circle cx="149.41" cy="143.73" r="2.3"/><circle cx="153.92" cy="142.95" r="2.3"/><circle cx="158.37" cy="142.07" r="2.3"/><circle cx="162.75" cy="141.08" r="2.3"/><circle cx="167.06" cy="139.95" r="2.3"/><circle cx="171.32" cy="138.7" r="2.3"/><circle cx="175.51" cy="137.37" r="2.3"/><circle cx="179.66" cy="135.87" r="2.3"/><circle cx="183.76" cy="134.19" r="2.3"/><circle cx="187.83" cy="132.32" r="2.3"/><circle cx="191.85" cy="130.24" r="2.3"/><circle cx="195.82" cy="127.73" r="2.3"/><circle cx="199.76" cy="124.58" r="2.3"/><circle cx="203.65" cy="120.57" r="2.3"/><circle cx="207.5" cy="115.7" r="2.3"/><circle cx="211.32" cy="110.18" r="2.3"/><circle cx="215.09" cy="104.26" r="2.3"/><circle cx="218.82" cy="98.12" r="2.3"/><circle cx="222.53" cy="91.97" r="2.3"/><circle cx="226.26" cy="85.88" r="2.3"/><circle cx="230.04" cy="79.99" r="2.3"/><circle cx="233.84" cy="74.27" r="2.3"/><circle cx="237.68" cy="68.68" r="2.3"/><circle cx="241.55" cy="63.2" r="2.3"/><circle cx="245.46" cy="57.69" r="2.3"/><circle cx="249.4" cy="51.94" r="2.3"/><circle cx="253.38" cy="46.7" r="2.3"/><circle cx="257.39" cy="42.51" r="2.3"/><circle cx="261.44" cy="39.13" r="2.3"/><circle cx="265.53" cy="36.29" r="2.3"/><circle cx="269.65" cy="34.1" r="2.3"/><circle cx="273.81" cy="32.9" r="2.3"/><circle cx="278.01" cy="33.08" r="2.3"/><circle cx="282.25" cy="34.92" r="2.3"/><circle cx="286.53" cy="38.18" r="2.3"/><circle cx="290.84" cy="42.47" r="2.3"/><circle cx="295.19" cy="47.65" r="2.3"/><circle cx="299.58" cy="53.94" r="2.3"/><circle cx="304.01" cy="60.77" r="2.3"/><circle cx="308.47" cy="67.66" r="2.3"/><circle cx="312.97" cy="74.52" r="2.3"/><circle cx="317.51" cy="81.25" r="2.3"/><circle cx="322.09" cy="87.79" r="2.3"/><circle cx="326.7" cy="94.02" r="2.3"/><circle cx="331.33" cy="99.88" r="2.3"/><circle cx="335.98" cy="105.37" r="2.3"/><circle cx="340.64" cy="110.5" r="2.3"/><circle cx="345.33" cy="115.28" r="2.3"/><circle cx="350.04" cy="119.72" r="2.3"/><circle cx="354.77" cy="123.84" r="2.3"/><circle cx="359.51" cy="127.64" r="2.3"/><circle cx="364.28" cy="131.15" r="2.3"/><circle cx="369.07" cy="134.39" r="2.3"/><circle cx="373.89" cy="137.4" r="2.3"/><circle cx="378.76" cy="140.24" r="2.3"/><circle cx="383.7" cy="142.93" r="2.3"/><circle cx="388.69" cy="145.48" r="2.3"/><circle cx="393.74" cy="147.93" r="2.3"/><circle cx="398.85" cy="150.24" r="2.3"/><circle cx="404.02" cy="152.4" r="2.3"/><circle cx="409.25" cy="154.41" r="2.3"/><circle cx="414.55" cy="156.29" r="2.3"/><circle cx="419.9" cy="158.02" r="2.3"/><circle cx="425.32" cy="159.62" r="2.3"/><circle cx="430.81" cy="161.07" r="2.3"/><circle cx="436.35" cy="162.36" r="2.3"/><circle cx="441.97" cy="163.52" r="2.3"/><circle cx="447.65" cy="164.57" r="2.3"/><circle cx="453.39" cy="165.5" r="2.3"/><circle cx="459.21" cy="166.33" r="2.3"/><circle cx="465.09" cy="167.06" r="2.3"/><circle cx="471.04" cy="167.69" r="2.3"/><circle cx="477.04" cy="168.24" r="2.3"/><circle cx="483.04" cy="168.72" r="2.3"/><circle cx="489.04" cy="169.12" r="2.3"/><circle cx="495.04" cy="169.47" r="2.3"/><circle cx="501.04" cy="169.78" r="2.3"/></g>
<g fill="#999"><circle cx="97.36" cy="144.61" r="0.55"/><circle cx="102.1" cy="144.86" r="0.55"/><circle cx="106.83" cy="145.04" r="0.55"/><circle cx="111.54" cy="145.17" r="0.55"/><circle cx="116.24" cy="145.22" r="0.55"/><circle cx="120.93" cy="145.2" r="0.55"/><circle cx="125.6" cy="145.1" r="0.55"/><circle cx="130.25" cy="144.9" r="0.55"/><circle cx="134.89" cy="144.62" r="0.55"/><circle cx="139.51" cy="144.18" r="0.55"/><circle cx="144.12" cy="143.61" r="0.55"/><circle cx="148.71" cy="142.93" r="0.55"/><circle cx="153.22" cy="142.15" r="0.55"/><circle cx="157.67" cy="141.27" r="0.55"/><circle cx="162.05" cy="140.28" r="0.55"/><circle cx="166.36" cy="139.15" r="0.55"/><circle cx="170.62" cy="137.9" r="0.55"/><circle cx="174.81" cy="136.57" r="0.55"/><circle cx="178.96" cy="135.07" r="0.55"/><circle cx="183.06" cy="133.39" r="0.55"/><circle cx="187.13" cy="131.52" r="0.55"/><circle cx="191.15" cy="129.44" r="0.55"/><circle cx="195.12" cy="126.93" r="0.55"/><circle cx="199.06" cy="123.78" r="0.55"/><circle cx="202.95" cy="119.77" r="0.55"/><circle cx="206.8" cy="114.9" r="0.55"/><circle cx="210.62" cy="109.38" r="0.55"/><circle cx="214.39" cy="103.46" r="0.55"/><circle cx="218.12" cy="97.32" r="0.55"/><circle cx="221.83" cy="91.17" r="0.55"/><circle cx="225.56" cy="85.08" r="0.55"/><circle cx="229.34" cy="79.19" r="0.55"/><circle cx="233.14" cy="73.47" r="0.55"/><circle cx="236.98" cy="67.88" r="0.55"/><circle cx="240.85" cy="62.4" r="0.55"/><circle cx="244.76" cy="56.89" r="0.55"/><circle cx="248.7" cy="51.14" r="0.55"/><circle cx="252.68" cy="45.9" r="0.55"/><circle cx="256.69" cy="41.71" r="0.55"/><circle cx="260.74" cy="38.33" r="0.55"/><circle cx="264.83" cy="35.49" r="0.55"/><circle cx="268.95" cy="33.3" r="0.55"/><circle cx="273.11" cy="32.1" r="0.55"/><circle cx="277.31" cy="32.28" r="0.55"/><circle cx="281.55" cy="34.12" r="0.55"/><circle cx="285.83" cy="37.38" r="0.55"/><circle cx="290.14" cy="41.67" r="0.55"/><circle cx="294.49" cy="46.85" r="0.55"/><circle cx="298.88" cy="53.14" r="0.55"/><circle cx="303.31" cy="59.97" r="0.55"/><circle cx="307.77" cy="66.86" r="0.55"/><circle cx="312.27" cy="73.72" r="0.55"/><circle cx="316.81" cy="80.45" r="0.55"/><circle cx="321.39" cy="86.99" r="0.55"/><circle cx="326" cy="93.22" r="0.55"/><circle cx="330.63" cy="99.08" r="0.55"/><circle cx="335.28" cy="104.57" r="0.55"/><circle cx="339.94" cy="109.7" r="0.55"/><circle cx="344.63" cy="114.48" r="0.55"/><circle cx="349.34" cy="118.92" r="0.55"/><circle cx="354.07" cy="123.04" r="0.55"/><circle cx="358.81" cy="126.84" r="0.55"/><circle cx="363.58" cy="130.35" r="0.55"/><circle cx="368.37" cy="133.59" r="0.55"/><circle cx="373.19" cy="136.6" r="0.55"/><circle cx="378.06" cy="139.44" r="0.55"/><circle cx="383" cy="142.13" r="0.55"/><circle cx="387.99" cy="144.68" r="0.55"/><circle cx="393.04" cy="147.13" r="0.55"/><circle cx="398.15" cy="149.44" r="0.55"/><circle cx="403.32" cy="151.6" r="0.55"/><circle cx="408.55" cy="153.61" r="0.55"/><circle cx="413.85" cy="155.49" r="0.55"/><circle cx="419.2" cy="157.22" r="0.55"/><circle cx="424.62" cy="158.82" r="0.55"/><circle cx="430.11" cy="160.27" r="0.55"/><circle cx="435.65" cy="161.56" r="0.55"/><circle cx="441.27" cy="162.72" r="0.55"/><circle cx="446.95" cy="163.77" r="0.55"/><circle cx="452.69" cy="164.7" r="0.55"/><circle cx="458.51" cy="165.53" r="0.55"/><circle cx="464.39" cy="166.26" r="0.55"/><circle cx="470.34" cy="166.89" r="0.55"/><circle cx="476.34" cy="167.44" r="0.55"/><circle cx="482.34" cy="167.92" r="0.55"/><circle cx="488.34" cy="168.32" r="0.55"/><circle cx="494.34" cy="168.67" r="0.55"/><circle cx="500.34" cy="168.98" r="0.55"/></g>
<path d="M100.44,145.56 L105.14,145.79 L109.83,145.97 L114.51,146.08 L119.17,146.12 L123.81,146.08 L128.44,145.95 L133.06,145.74 L137.66,145.46 L142.24,145.16 L146.78,144.75 L151.19,144.26 L155.54,143.67 L159.82,142.97 L164.04,142.16 L168.2,141.22 L172.29,140.1 L176.33,138.78 L180.33,137.31 L184.28,135.66 L188.19,133.85 L192.06,131.81 L195.89,129.38 L199.76,126.28 L203.65,122.27 L207.5,117.4 L211.32,111.88 L215.09,105.96 L218.82,99.82 L222.53,93.67 L226.26,87.58 L230.04,81.69 L233.84,75.97 L237.68,70.38 L241.55,64.9 L245.46,59.39 L249.4,53.64 L253.38,48.4 L257.39,44.21 L261.44,40.83 L265.53,37.99 L269.65,35.8 L273.81,34.6 L278.01,34.78 L282.25,36.62 L286.53,39.88 L290.84,44.17 L295.19,49.35 L299.58,55.64 L303.97,62.41 L308.39,69.24 L312.85,76.04 L317.35,82.72 L321.89,89.21 L326.46,95.41 L331.05,101.24 L335.65,106.71 L340.28,111.82 L344.93,116.58 L349.59,121.02 L354.28,125.13 L358.98,128.93 L363.71,132.45 L368.43,135.68 L373.16,138.66 L377.95,141.48 L382.78,144.15 L387.68,146.67 L392.64,148.99 L397.65,151.16 L402.72,153.19 L407.85,155.08 L413.04,156.84 L418.3,158.45 L423.61,159.93 L428.99,161.29 L434.45,162.58 L440.06,163.77 L445.73,164.83 L451.47,165.78 L457.27,166.61 L463.15,167.35 L469.09,167.99 L475.08,168.54 L481.07,169.01 L487.06,169.41 L493.05,169.75 L499.05,170.04" fill="none" stroke="#f55" stroke-width="0.8"/>
<g fill="#f43b3b"><circle cx="100.44" cy="145.56" r="1.85"/><circle cx="105.14" cy="145.79" r="1.85"/><circle cx="109.83" cy="145.97" r="1.85"/><circle cx="114.51" cy="146.08" r="1.85"/><circle cx="119.17" cy="146.12" r="1.85"/><circle cx="123.81" cy="146.08" r="1.85"/><circle cx="128.44" cy="145.95" r="1.85"/><circle cx="133.06" cy="145.74" r="1.85"/><circle cx="137.66" cy="145.46" r="1.85"/><circle cx="142.24" cy="145.16" r="1.85"/><circle cx="146.78" cy="144.75" r="1.85"/><circle cx="151.19" cy="144.26" r="1.85"/><circle cx="155.54" cy="143.67" r="1.85"/><circle cx="159.82" cy="142.97" r="1.85"/><circle cx="164.04" cy="142.16" r="1.85"/><circle cx="168.2" cy="141.22" r="1.85"/><circle cx="172.29" cy="140.1" r="1.85"/><circle cx="176.33" cy="138.78" r="1.85"/><circle cx="180.33" cy="137.31" r="1.85"/><circle cx="184.28" cy="135.66" r="1.85"/><circle cx="188.19" cy="133.85" r="1.85"/><circle cx="192.06" cy="131.81" r="1.85"/><circle cx="195.89" cy="129.38" r="1.85"/><circle cx="199.76" cy="126.28" r="1.85"/><circle cx="203.65" cy="122.27" r="1.85"/><circle cx="207.5" cy="117.4" r="1.85"/><circle cx="211.32" cy="111.88" r="1.85"/><circle cx="215.09" cy="105.96" r="1.85"/><circle cx="218.82" cy="99.82" r="1.85"/><circle cx="222.53" cy="93.67" r="1.85"/><circle cx="226.26" cy="87.58" r="1.85"/><circle cx="230.04" cy="81.69" r="1.85"/><circle cx="233.84" cy="75.97" r="1.85"/><circle cx="237.68" cy="70.38" r="1.85"/><circle cx="241.55" cy="64.9" r="1.85"/><circle cx="245.46" cy="59.39" r="1.85"/><circle cx="249.4" cy="53.64" r="1.85"/><circle cx="253.38" cy="48.4" r="1.85"/><circle cx="257.39" cy="44.21" r="1.85"/><circle cx="261.44" cy="40.83" r="1.85"/><circle cx="265.53" cy="37.99" r="1.85"/><circle cx="269.65" cy="35.8" r="1.85"/><circle cx="273.81" cy="34.6" r="1.85"/><circle cx="278.01" cy="34.78" r="1.85"/><circle cx="282.25" cy="36.62" r="1.85"/><circle cx="286.53" cy="39.88" r="1.85"/><circle cx="290.84" cy="44.17" r="1.85"/><circle cx="295.19" cy="49.35" r="1.85"/><circle cx="299.58" cy="55.64" r="1.85"/><circle cx="303.97" cy="62.41" r="1.85"/><circle cx="308.39" cy="69.24" r="1.85"/><circle cx="312.85" cy="76.04" r="1.85"/><circle cx="317.35" cy="82.72" r="1.85"/><circle cx="321.89" cy="89.21" r="1.85"/><circle cx="326.46" cy="95.41" r="1.85"/><circle cx="331.05" cy="101.24" r="1.85"/><circle cx="335.65" cy="106.71" r="1.85"/><circle cx="340.28" cy="111.82" r="1.85"/><circle cx="344.93" cy="116.58" r="1.85"/><circle cx="349.59" cy="121.02" r="1.85"/><circle cx="354.28" cy="125.13" r="1.85"/><circle cx="358.98" cy="128.93" r="1.85"/><circle cx="363.71" cy="132.45" r="1.85"/><circle cx="368.43" cy="135.68" r="1.85"/><circle cx="373.16" cy="138.66" r="1.85"/><circle cx="377.95" cy="141.48" r="1.85"/><circle cx="382.78" cy="144.15" r="1.85"/><circle cx="387.68" cy="146.67" r="1.85"/><circle cx="392.64" cy="148.99" r="1.85"/><circle cx="397.65" cy="151.16" r="1.85"/><circle cx="402.72" cy="153.19" r="1.85"/><circle cx="407.85" cy="155.08" r="1.85"/><circle cx="413.04" cy="156.84" r="1.85"/><circle cx="418.3" cy="158.45" r="1.85"/><circle cx="423.61" cy="159.93" r="1.85"/><circle cx="428.99" cy="161.29" r="1.85"/><circle cx="434.45" cy="162.58" r="1.85"/><circle cx="440.06" cy="163.77" r="1.85"/><circle cx="445.73" cy="164.83" r="1.85"/><circle cx="451.47" cy="165.78" r="1.85"/><circle cx="457.27" cy="166.61" r="1.85"/><circle cx="463.15" cy="167.35" r="1.85"/><circle cx="469.09" cy="167.99" r="1.85"/><circle cx="475.08" cy="168.54" r="1.85"/><circle cx="481.07" cy="169.01" r="1.85"/><circle cx="487.06" cy="169.41" r="1.85"/><circle cx="493.05" cy="169.75" r="1.85"/><circle cx="499.05" cy="170.04" r="1.85"/></g>
<path d="M349,27.3 H388.7" stroke="#3a3a3a" stroke-width="0.9"/>
<circle cx="369.1" cy="26.9" r="2.3" fill="#111"/>
<circle cx="368.4" cy="26.1" r="0.7" fill="#ccc"/>
<path d="M349,49.1 H388.7" stroke="#f8a0a0" stroke-width="1.3"/>
<circle cx="369.3" cy="48.9" r="1.9" fill="#f33"/>
<path d="M349,71 H388.7" stroke="#111" stroke-width="1.3" stroke-dasharray="5 3.5"/>
<g font-family="Liberation Serif, serif" font-size="16.5" fill="#111" stroke="#111" stroke-width="0.22">
<text x="393" y="33.4" textLength="127" lengthAdjust="spacingAndGlyphs">experimental curve</text>
<text x="393" y="55" textLength="138.5" lengthAdjust="spacingAndGlyphs">approximation curve</text>
<text x="393" y="77.4" textLength="53.5" lengthAdjust="spacingAndGlyphs">baseline</text>
</g>
<path d="M62.1,13.75 H537 V180 H62.1 Z M62.1,203.95 V370.2 H537 V203.95 M62.1,180 v6.0 M62.1,370.2 v6.0 M96.02,180 v2.9 M96.02,370.2 v2.9 M129.94,180 v6.0 M129.94,370.2 v6.0 M163.86,180 v2.9 M163.86,370.2 v2.9 M197.79,180 v6.0 M197.79,370.2 v6.0 M231.71,180 v2.9 M231.71,370.2 v2.9 M265.63,180 v6.0 M265.63,370.2 v6.0 M299.55,180 v2.9 M299.55,370.2 v2.9 M333.47,180 v6.0 M333.47,370.2 v6.0 M367.39,180 v2.9 M367.39,370.2 v2.9 M401.31,180 v6.0 M401.31,370.2 v6.0 M435.24,180 v2.9 M435.24,370.2 v2.9 M469.16,180 v6.0 M469.16,370.2 v6.0 M503.08,180 v2.9 M503.08,370.2 v2.9 M537,180 v6.0 M537,370.2 v6.0 M62.1,180 h-6.2 M62.1,370.2 h-6.2 M62.1,146.75 h-2.9 M62.1,329.12 h-2.9 M62.1,113.5 h-6.2 M62.1,288.04 h-6.2 M62.1,80.25 h-2.9 M62.1,246.96 h-2.9 M62.1,47 h-6.2 M62.1,205.88 h-6.2 M62.1,13.75 h-2.9" fill="none" stroke="#000" stroke-width="1.5" stroke-linecap="square"/>
<g font-family="Liberation Serif, serif" font-size="16" fill="#111" stroke="#111" stroke-width="0.2" text-anchor="end">
<text x="51.2" y="184.2">0.0</text>
<text x="51.2" y="374.1">0.0</text>
<text x="51.2" y="116.8">0.4</text>
<text x="51.2" y="291.94">0.4</text>
<text x="51.2" y="50.3">0.8</text>
<text x="51.2" y="209.78">0.8</text>
</g>
<g font-family="Liberation Serif, serif" font-size="16" fill="#111" stroke="#111" stroke-width="0.2" text-anchor="middle">
<text x="62.1" y="392.8">50</text>
<text x="129.94" y="392.8">60</text>
<text x="197.79" y="392.8">70</text>
<text x="265.63" y="392.8">80</text>
<text x="333.47" y="392.8">90</text>
<text x="401.31" y="392.8">100</text>
<text x="469.16" y="392.8">110</text>
<text x="537" y="392.8">120</text>
</g>
<g font-family="Liberation Serif, serif" font-size="19" fill="#111" stroke="#111" stroke-width="0.15">
<text x="226.4" y="430.2" textLength="146" lengthAdjust="spacingAndGlyphs">Temperature (°C)</text>
<text transform="translate(22.8,182.6) rotate(-90)" textLength="177.2" lengthAdjust="spacingAndGlyphs">Loss Modulus (MPa)</text>
<text transform="translate(21.8,373.1) rotate(-90)" textLength="174.3" lengthAdjust="spacingAndGlyphs">Loss Modulus (MPa)</text>
</g>
<path d="M313.6,238 L305.15,256.66" stroke="#111" stroke-width="1"/>
<path d="M302.1,263.4 L303.1,254.63 L308.02,256.86 Z" fill="#111"/>
<path d="M381.7,326.3 L374.57,346.42" stroke="#111" stroke-width="1"/>
<path d="M372.1,353.4 L372.36,344.58 L377.45,346.38 Z" fill="#111"/>
<path d="M140.4,338.8 L151.94,359.81" stroke="#111" stroke-width="1"/>
<path d="M155.5,366.3 L149.09,360.24 L153.82,357.64 Z" fill="#111"/>
<g font-family="Liberation Serif, serif" font-style="italic" font-size="17.8" fill="#111" stroke="#111" stroke-width="0.2">
<text x="316" y="232.2">1</text>
<text x="383.8" y="319.3">1</text><text x="393.6" y="320" font-size="21" stroke-width="0.1">′</text>
<text x="128.6" y="335.4">1</text><text x="136.6" y="336.6" font-size="19.5" stroke-width="0.1">″</text>
</g>
</svg></body></html>
